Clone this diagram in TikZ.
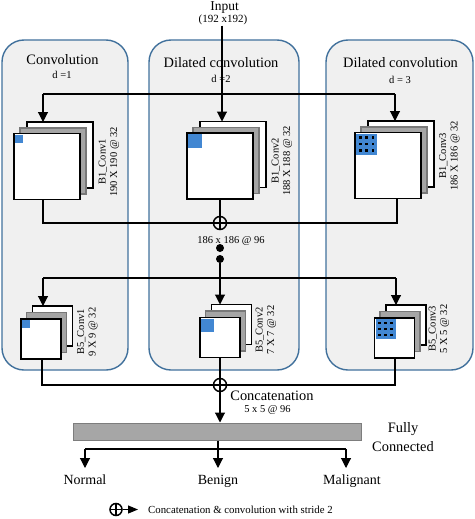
\documentclass[tikz,border=0pt]{standalone}
\usepackage{fontspec}
\setmainfont{Liberation Serif}
\usetikzlibrary{arrows.meta}
\definecolor{panelfill}{RGB}{240,240,240}
\definecolor{panelborder}{RGB}{65,113,156}
\definecolor{stackgray}{RGB}{165,165,165}
\definecolor{stackedge}{RGB}{120,120,120}
\definecolor{kblue}{RGB}{66,135,210}
\definecolor{fcgray}{RGB}{166,166,166}
\definecolor{fcedge}{RGB}{125,125,125}
\newcommand\mkstack[8]{%
  \node[backsq,minimum width=#4pt,minimum height=#4pt] (#1back) at (#2+#7,#3-#8) {};
  \node[graysq,minimum width=#4pt,minimum height=#4pt] (#1gray) at (#2+#5,#3-#6) {};
  \node[frontsq,minimum width=#4pt,minimum height=#4pt] (#1front) at (#2,#3) {};
}
\begin{document}
\begin{tikzpicture}[x=1pt,y=-1pt,
  panel/.style={draw=panelborder,line width=1.4pt,fill=panelfill,rounded corners=22pt},
  conn/.style={line width=1.1pt},
  arr/.style={conn,-{Triangle[width=10pt,length=10pt]}},
  legarr/.style={conn,-{Triangle[width=8pt,length=10pt]}},
  frontsq/.style={draw=black,fill=white,line width=1.8pt,inner sep=0pt,outer sep=0pt},
  backsq/.style={draw=black,fill=white,line width=1.6pt,inner sep=0pt,outer sep=0pt},
  graysq/.style={draw=stackedge,fill=stackgray,line width=1.1pt,inner sep=0pt,outer sep=0pt},
  title/.style={font=\fontsize{14.4}{17}\selectfont,inner sep=0pt,anchor=base},
  small/.style={font=\fontsize{10.5}{12}\selectfont,inner sep=0pt,anchor=base},
  rlab/.style={font=\fontsize{10.5}{11.5}\selectfont,rotate=90,align=center,inner sep=0pt},
  outl/.style={font=\fontsize{14}{16}\selectfont,inner sep=0pt,text height=10pt,text depth=3pt,outer sep=6.5pt},
  dotn/.style={circle,fill=black,minimum size=8pt,inner sep=0pt},
  oplus/.style={circle,draw=black,line width=1.5pt,minimum size=13pt,inner sep=0pt,
    path picture={\draw[line width=1.5pt] (path picture bounding box.north) -- (path picture bounding box.south)
      (path picture bounding box.west) -- (path picture bounding box.east);}},
  fcbar/.style={draw=fcedge,fill=fcgray,line width=1pt,minimum width=288pt,minimum height=17pt,inner sep=0pt}
]
\useasboundingbox (0,0) rectangle (474,519);

% panels
\draw[panel] (2,40) rectangle (128,370);
\draw[panel] (149,40) rectangle (299,370);
\draw[panel] (326,40) rectangle (473,370);

% titles
\node[title] (tit1) at (62.5,64.3) {Convolution};
\node[small] (dd1) at (62,78) {d =1};
\node[title] (tit2) at (221,67.3) {Dilated convolution};
\node[small] (dd2) at (221,82) {d =2};
\node[title] (tit3) at (400.5,67.8) {Dilated convolution};
\node[small] (dd3) at (400,83) {d = 3};

% input
\node[font=\fontsize{13.5}{16}\selectfont,inner sep=0pt,anchor=base] (input) at (224.5,11) {Input};
\node[font=\fontsize{11}{13}\selectfont,inner sep=0pt,anchor=base] (inputdim) at (223,23) {(192 x192)};
\coordinate (inx) at (222,0);

% stacks
\mkstack{t1}{47}{166.5}{66}{6}{5.5}{13}{11.5}
\mkstack{t2}{220}{166}{66}{6}{5.5}{13}{11.5}
\mkstack{t3}{388}{165.5}{66}{6}{5.5}{13}{11.5}
\mkstack{b1}{41}{339}{40}{5.5}{6.5}{11.5}{13}
\mkstack{b2}{220}{337.5}{40}{5.5}{6.5}{11.5}{13}
\mkstack{b3}{394.5}{338}{40}{5.5}{6.5}{11.5}{13}

% kernels
\fill[kblue] ([shift={(1,1)}]t1front.north west) rectangle +(8,8);
\fill[kblue] ([shift={(1,1)}]t2front.north west) rectangle +(14,14);
\fill[kblue] ([shift={(1,1)}]t3front.north west) rectangle +(21,21);
\foreach \i in {4.2,10.5,16.8} \foreach \j in {4.2,10.5,16.8}
  \fill[black] ([shift={(\i-0.3,\j-0.3)}]t3front.north west) rectangle +(2.6,2.6);
\fill[kblue] ([shift={(1,1)}]b1front.north west) rectangle +(8,8);
\fill[kblue] ([shift={(1,1)}]b2front.north west) rectangle +(13,13);
\fill[kblue] ([shift={(1,1)}]b3front.north west) rectangle +(20,20);
\foreach \i in {4,10,16} \foreach \j in {4,10,16}
  \fill[black] ([shift={(\i-0.3,\j-0.3)}]b3front.north west) rectangle +(2.5,2.5);

% rotated labels
\node[rlab] (l1) at (109,162) {B1\_Conv1\\190 X 190 @ 32};
\node[rlab] (l2) at (282,161) {B1\_Conv2\\188 X 188 @ 32};
\node[rlab] (l3) at (449.5,156) {B1\_Conv3\\186 X 186 @ 32};
\node[rlab] (l4) at (87.5,332) {B5\_Conv1\\9 X 9 @ 32};
\node[rlab] (l5) at (266,330) {B5\_Conv2\\7 X 7 @ 32};
\node[rlab] (l6) at (439,329) {B5\_Conv3\\5 X 5 @ 32};

% top distribution
\coordinate (h1l) at (43,94);
\coordinate (h1r) at (395,94);
\draw[conn] (h1l) -- (h1r);
\draw[arr] (h1l) -- (h1l |- t1back.north);
\draw[arr] (h1r) -- (h1r |- t3back.north);
\draw[arr] (inputdim.south -| inx) -- (inx |- t2back.north);

% first concatenation
\coordinate (j1l) at (43,223);
\coordinate (j1r) at (397,223);
\draw[conn] (t1front.south -| j1l) -- (j1l) -- (j1r) -- (t3front.south -| j1r);
\node[oplus] (op1) at (220,223) {};
\draw[conn] (t2front.south) -- (op1);
\node[small] (cat1) at (231,243) {186 x 186 @ 96};
\node[dotn] (d1) at (220,248) {};
\node[dotn] (d2) at (220,259) {};

% second distribution
\coordinate (h2l) at (43,278);
\coordinate (h2r) at (396,278);
\draw[conn] (h2l) -- (h2r);
\draw[arr] (h2l) -- (h2l |- b1back.north);
\draw[arr] (h2r) -- (h2r |- b3back.north);
\draw[arr] (d2) -- (d2 |- b2back.north);

% second concatenation
\coordinate (j2l) at (42,385);
\coordinate (j2r) at (395,385);
\draw[conn] (b1front.south -| j2l) -- (j2l) -- (j2r) -- (b3front.south -| j2r);
\node[oplus] (op2) at (220,385) {};
\draw[conn] (b2front.south) -- (op2);
\node[title] (cat2) at (272,400) {Concatenation};
\node[small] (cat2d) at (267.5,412.5) {5 x 5 @ 96};

% fully connected
\node[fcbar] (fc) at (217,431.5) {};
\draw[arr] (op2) -- (op2 |- fc.north);
\node[title] (fully) at (403,432.5) {Fully};
\node[title] (connd) at (403,451) {Connected};

% outputs
\node[outl] (normal) at (85,481) {Normal};
\node[outl] (benign) at (218,481) {Benign};
\node[outl] (malig) at (352,481) {Malignant};
\coordinate (j3) at (218,449);
\coordinate (j3l) at (85,449);
\coordinate (j3r) at (346,449);
\draw[conn] (fc.south -| j3) -- (j3);
\draw[conn] (j3l) -- (j3r);
\draw[arr] (j3l) -- (j3l |- normal.north);
\draw[arr] (j3) -- (j3 |- benign.north);
\draw[arr] (j3r) -- (j3r |- malig.north);

% legend
\node[oplus,minimum size=12pt] (lgop) at (116,509.5) {};
\node[font=\fontsize{10.8}{13}\selectfont,inner sep=0pt,anchor=base west] (lgtext) at (148,513) {Concatenation \& convolution with stride 2};
\draw[legarr] (lgop.east) -- ([xshift=-10pt]lgtext.west |- lgop.east);
\end{tikzpicture}
\end{document}
